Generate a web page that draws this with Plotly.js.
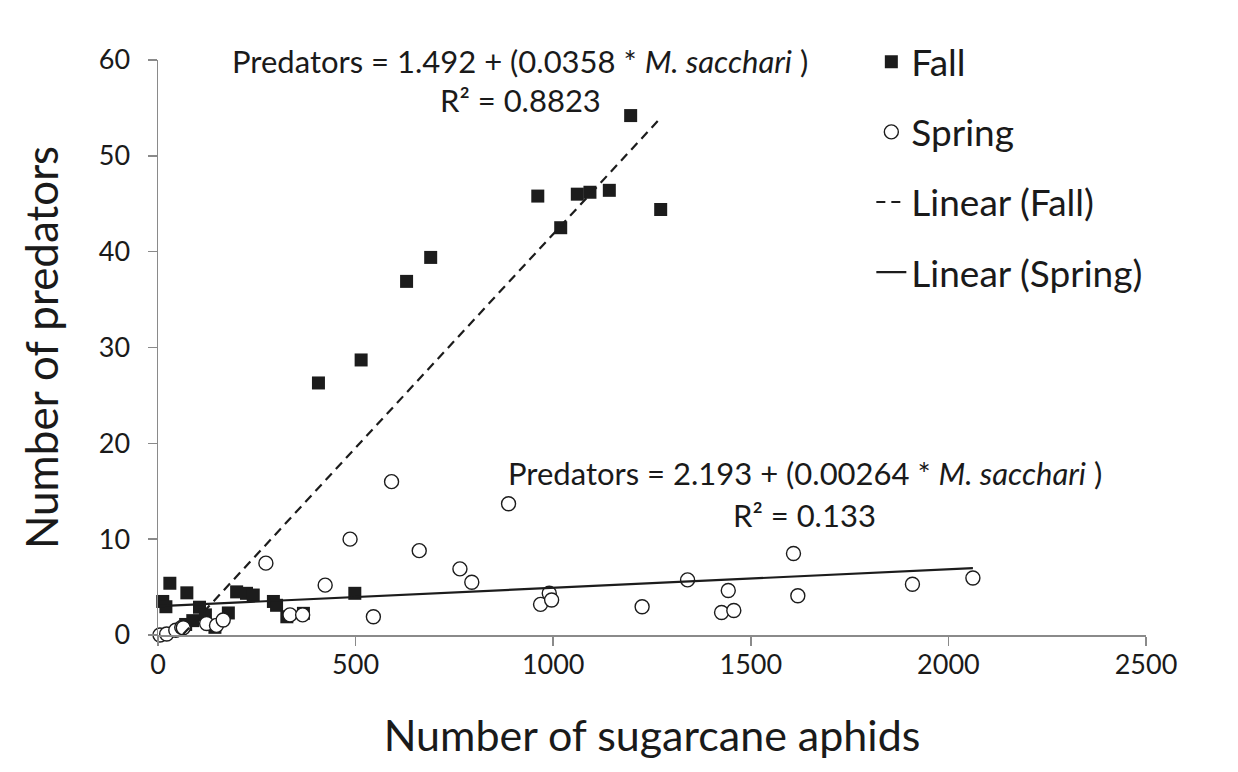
<!DOCTYPE html>
<html>
<head>
<meta charset="utf-8">
<script src="https://cdn.plot.ly/plotly-3.0.1.min.js"></script>
<style>
  html, body { margin: 0; padding: 0; background: #ffffff; }
  #chart { width: 1238px; height: 772px; }
</style>
</head>
<body>
<div id="chart"></div>
<script>
// Aphid counts (x) and predator counts (y) per sample
const fallAphids = [12, 20, 30, 73, 70, 88, 105, 120, 144, 178, 199, 224, 241, 292, 300, 326, 368, 498,
                    406, 514, 629, 690, 961, 1019, 1061, 1093, 1142, 1196, 1272];
const fallPredators = [3.5, 2.95, 5.4, 4.4, 1.1, 1.5, 2.9, 2.1, 0.8, 2.3, 4.5, 4.35, 4.17, 3.5, 3.1, 1.9, 2.26, 4.35,
                       26.3, 28.7, 36.9, 39.4, 45.8, 42.5, 46.0, 46.2, 46.4, 54.2, 44.4];

const springAphids = [5, 22, 45, 60, 64, 123, 148, 165, 273, 334, 366, 423, 486, 545, 591, 661, 764, 794,
                      887, 968, 990, 996, 1225, 1340, 1426, 1443, 1457, 1608, 1619, 1909, 2062];
const springPredators = [0.0, 0.1, 0.5, 0.8, 0.76, 1.2, 1.0, 1.56, 7.5, 2.1, 2.1, 5.2, 10.0, 1.9, 16.0, 8.8, 6.9, 5.5,
                         13.7, 3.2, 4.35, 3.65, 2.95, 5.75, 2.35, 4.65, 2.55, 8.5, 4.1, 5.3, 5.95];

const seriesNames = ['Fall', 'Spring', 'Linear (Fall)', 'Linear (Spring)'];
const fallEquation = 'Predators = 1.492 + (0.0358 * <i>M. sacchari</i> )';
const fallR2 = 'R² = 0.8823';
const springEquation = 'Predators = 2.193 + (0.00264 * <i>M. sacchari</i> )';
const springR2 = 'R² = 0.133';

const xTicks = [0, 500, 1000, 1500, 2000, 2500];
const yTicks = [0, 10, 20, 30, 40, 50, 60];

// Ordinary least-squares trendline spanning the series' x extent
function trend(xs, ys) {
  const n = xs.length;
  const mx = xs.reduce((a, b) => a + b, 0) / n;
  const my = ys.reduce((a, b) => a + b, 0) / n;
  let sxy = 0, sxx = 0;
  for (let i = 0; i < n; i++) {
    sxy += (xs[i] - mx) * (ys[i] - my);
    sxx += (xs[i] - mx) * (xs[i] - mx);
  }
  const slope = sxy / sxx;
  const icpt = my - slope * mx;
  const x0 = Math.min(...xs), x1 = Math.max(...xs);
  return { x: [x0, x1], y: [icpt + slope * x0, icpt + slope * x1] };
}

const fallFit = trend(fallAphids, fallPredators);
const springFit = trend(springAphids, springPredators);

const FONT = 'Lato, "Open Sans", sans-serif';
const INK = '#1a1a1a';
const AXIS = '#8a8a8a';

const traces = [
  {
    x: fallAphids, y: fallPredators, name: seriesNames[0], legendgroup: 'g1',
    type: 'scatter', mode: 'markers', cliponaxis: false,
    marker: { symbol: 'square', size: 13, color: '#1c1c1c', line: { width: 0 } }
  },
  {
    x: springAphids, y: springPredators, name: seriesNames[1], legendgroup: 'g2',
    type: 'scatter', mode: 'markers', cliponaxis: false,
    marker: { symbol: 'circle', size: 14, color: '#ffffff', line: { width: 1.4, color: '#1c1c1c' } }
  },
  {
    x: fallFit.x, y: fallFit.y, name: seriesNames[2], legendgroup: 'g3',
    type: 'scatter', mode: 'lines',
    line: { color: '#1c1c1c', width: 2.2, dash: '9px,6px' }
  },
  {
    x: springFit.x, y: springFit.y, name: seriesNames[3], legendgroup: 'g4',
    type: 'scatter', mode: 'lines',
    line: { color: '#1c1c1c', width: 2.2 }
  }
];

const layout = {
  width: 1238, height: 772,
  margin: { l: 158, r: 92, t: 60, b: 137 },
  paper_bgcolor: '#ffffff', plot_bgcolor: '#ffffff',
  font: { family: FONT, color: INK },
  showlegend: true,
  legend: {
    x: 0.722, y: 1.05, xanchor: 'left', yanchor: 'top',
    traceorder: 'grouped', tracegroupgap: 19,
    font: { family: FONT, size: 37, color: INK },
    bgcolor: 'rgba(0,0,0,0)', itemsizing: 'trace'
  },
  xaxis: {
    range: [0, 2500], tickvals: xTicks, ticktext: xTicks.map(String),
    showgrid: false, zeroline: false, showline: true, linecolor: AXIS, linewidth: 1.5,
    ticks: 'outside', ticklen: 9, tickwidth: 1.5, tickcolor: AXIS,
    tickfont: { family: FONT, size: 27, color: INK }, ticklabelstandoff: -4,
    title: { text: 'Number of sugarcane aphids', font: { family: FONT, size: 43, color: INK }, standoff: 42 }
  },
  yaxis: {
    range: [0, 60], tickvals: yTicks, ticktext: yTicks.map(String),
    showgrid: false, zeroline: false, showline: true, linecolor: AXIS, linewidth: 1.5,
    ticks: 'outside', ticklen: 9, tickwidth: 1.5, tickcolor: AXIS,
    tickfont: { family: FONT, size: 27, color: INK }, ticklabelstandoff: 12,
    title: { text: 'Number of predators', font: { family: FONT, size: 44, color: INK }, standoff: 26 }
  },
  annotations: [
    { x: 916, y: 59.9, xref: 'x', yref: 'y', text: fallEquation, showarrow: false,
      font: { family: FONT, size: 31, color: INK } },
    { x: 916, y: 55.8, xref: 'x', yref: 'y', text: fallR2, showarrow: false,
      font: { family: FONT, size: 31, color: INK } },
    { x: 1637, y: 16.9, xref: 'x', yref: 'y', text: springEquation, showarrow: false,
      font: { family: FONT, size: 31, color: INK } },
    { x: 1637, y: 12.5, xref: 'x', yref: 'y', text: springR2, showarrow: false,
      font: { family: FONT, size: 31, color: INK } }
  ]
};

Plotly.newPlot('chart', traces, layout, { staticPlot: true, displayModeBar: false });
</script>
</body>
</html>
